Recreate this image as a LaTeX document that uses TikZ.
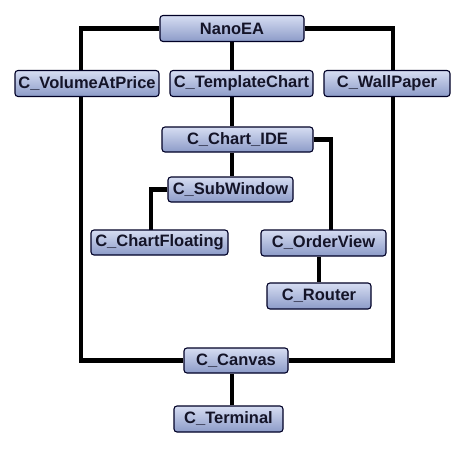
\documentclass[tikz,border=0pt]{standalone}
\usepackage{fontspec}
\setmainfont{Liberation Sans}
\usetikzlibrary{backgrounds}
\begin{document}
\begin{tikzpicture}[x=1pt,y=-1pt,
  cls/.style={draw=black!85!blue, line width=1.1pt, rounded corners=3pt,
    top color=cTop, bottom color=cBot, inner sep=0pt,
    minimum height=26pt, font=\fontsize{16.5}{16.5}\selectfont\bfseries, text=cText},
  link/.style={line width=4.5pt, line join=miter}]
\definecolor{cTop}{HTML}{D6DDF2}
\definecolor{cBot}{HTML}{8C9BC8}
\definecolor{cText}{HTML}{141428}
\useasboundingbox (0,0) rectangle (474,474);
% nodes
\node[cls, minimum width=144pt] (NanoEA) at (232,28.5) {NanoEA};
\node[cls, minimum width=144pt] (Vol) at (87,83.5) {C\_VolumeAtPrice};
\node[cls, minimum width=143pt] (Tpl) at (241.5,83.5) {C\_TemplateChart};
\node[cls, minimum width=126pt] (Wall) at (387,83.5) {C\_WallPaper};
\node[cls, minimum width=151pt, minimum height=25pt] (Ide) at (237.5,139.5) {C\_Chart\_IDE};
\node[cls, minimum width=125pt, minimum height=25pt] (Sub) at (230.5,189.5) {C\_SubWindow};
\node[cls, minimum width=137pt, minimum height=25pt] (Flo) at (159.5,242.5) {C\_ChartFloating};
\node[cls, minimum width=125pt] (Ord) at (323.5,243) {C\_OrderView};
\node[cls, minimum width=104pt] (Rou) at (319,296) {C\_Router};
\node[cls, minimum width=104pt, minimum height=25pt] (Can) at (236,360.5) {C\_Canvas};
\node[cls, minimum width=109pt] (Ter) at (228.5,419) {C\_Terminal};
% bend points of connectors
\coordinate (Lbot) at (81,360.5);
\coordinate (Rbot) at (393,360.5);
\coordinate (ovTop) at (331,235);
\coordinate (cfTop) at (151,235);
% connectors
\begin{scope}[on background layer]
\fill[white] (0,0) rectangle (474,474);
\draw[link] (NanoEA.west) -| (Lbot) -- (Can.west);
\draw[link] (NanoEA.east) -| (Rbot) -- (Can.east);
\draw[link] (NanoEA.south) -- (NanoEA.south |- Tpl.north);
\draw[link] (NanoEA |- Tpl.south) -- (NanoEA |- Ide.north);
\draw[link] (NanoEA |- Ide.south) -- (NanoEA |- Sub.north);
\draw[link] (Ide.east) -| (ovTop);
\draw[link] (Sub.west) -| (cfTop);
\draw[link] (Rou |- Ord.south) -- (Rou.north);
\draw[link] (Ter.north -| NanoEA) -- (Can.south -| NanoEA);
\end{scope}
\end{tikzpicture}
\end{document}
